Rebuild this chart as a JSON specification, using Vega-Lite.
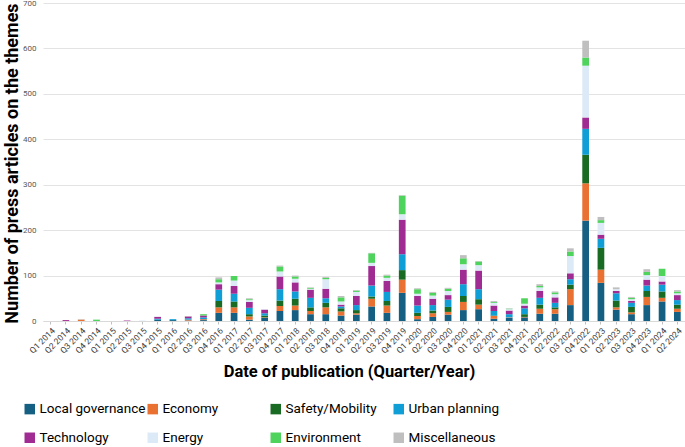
{
  "$schema": "https://vega.github.io/schema/vega-lite/v6.json",
  "autosize": {"type": "none"},
  "width": 642,
  "height": 318,
  "padding": {"left": 43, "top": 3, "right": 0, "bottom": 126},
  "background": "white",
  "config": {"view": {"stroke": null}, "font": "Roboto"},
  "data": {"values": [
    {"q":"Q1 2014","Local governance":0,"Economy":0,"Safety/Mobility":0,"Urban planning":0,"Technology":0,"Energy":0,"Environment":0,"Miscellaneous":0},
    {"q":"Q2 2014","Local governance":0,"Economy":0,"Safety/Mobility":0,"Urban planning":0,"Technology":2,"Energy":0,"Environment":0,"Miscellaneous":0},
    {"q":"Q3 2014","Local governance":0,"Economy":3,"Safety/Mobility":0,"Urban planning":0,"Technology":0,"Energy":0,"Environment":0,"Miscellaneous":1},
    {"q":"Q4 2014","Local governance":0,"Economy":0,"Safety/Mobility":0,"Urban planning":0,"Technology":0,"Energy":0,"Environment":3,"Miscellaneous":0},
    {"q":"Q1 2015","Local governance":0,"Economy":0,"Safety/Mobility":0,"Urban planning":0,"Technology":0,"Energy":0,"Environment":0,"Miscellaneous":0},
    {"q":"Q2 2015","Local governance":0,"Economy":0,"Safety/Mobility":0,"Urban planning":0,"Technology":1,"Energy":0,"Environment":0,"Miscellaneous":0},
    {"q":"Q3 2015","Local governance":0,"Economy":0,"Safety/Mobility":0,"Urban planning":0,"Technology":0,"Energy":1,"Environment":0,"Miscellaneous":0},
    {"q":"Q4 2015","Local governance":3,"Economy":0,"Safety/Mobility":0,"Urban planning":2,"Technology":4,"Energy":1,"Environment":0,"Miscellaneous":0},
    {"q":"Q1 2016","Local governance":2,"Economy":0,"Safety/Mobility":0,"Urban planning":2,"Technology":0,"Energy":0,"Environment":0,"Miscellaneous":0},
    {"q":"Q2 2016","Local governance":1,"Economy":2,"Safety/Mobility":0,"Urban planning":3,"Technology":4,"Energy":0,"Environment":0,"Miscellaneous":1},
    {"q":"Q3 2016","Local governance":2,"Economy":2,"Safety/Mobility":0,"Urban planning":4,"Technology":4,"Energy":0,"Environment":3,"Miscellaneous":0},
    {"q":"Q4 2016","Local governance":18,"Economy":12,"Safety/Mobility":14,"Urban planning":25,"Technology":12,"Energy":4,"Environment":7,"Miscellaneous":4},
    {"q":"Q1 2017","Local governance":18,"Economy":12,"Safety/Mobility":13,"Urban planning":17,"Technology":17,"Energy":12,"Environment":10,"Miscellaneous":0},
    {"q":"Q2 2017","Local governance":3,"Economy":7,"Safety/Mobility":5,"Urban planning":14,"Technology":13,"Energy":4,"Environment":2,"Miscellaneous":2},
    {"q":"Q3 2017","Local governance":7,"Economy":1,"Safety/Mobility":4,"Urban planning":5,"Technology":8,"Energy":1,"Environment":0,"Miscellaneous":0},
    {"q":"Q4 2017","Local governance":22,"Economy":11,"Safety/Mobility":12,"Urban planning":25,"Technology":28,"Energy":11,"Environment":11,"Miscellaneous":2},
    {"q":"Q1 2018","Local governance":24,"Economy":10,"Safety/Mobility":15,"Urban planning":16,"Technology":20,"Energy":8,"Environment":5,"Miscellaneous":2},
    {"q":"Q2 2018","Local governance":15,"Economy":7,"Safety/Mobility":8,"Urban planning":21,"Technology":18,"Energy":2,"Environment":2,"Miscellaneous":1},
    {"q":"Q3 2018","Local governance":15,"Economy":15,"Safety/Mobility":10,"Urban planning":10,"Technology":21,"Energy":21,"Environment":3,"Miscellaneous":2},
    {"q":"Q4 2018","Local governance":12,"Economy":9,"Safety/Mobility":7,"Urban planning":4,"Technology":4,"Energy":7,"Environment":9,"Miscellaneous":3},
    {"q":"Q1 2019","Local governance":14,"Economy":3,"Safety/Mobility":7,"Urban planning":11,"Technology":20,"Energy":9,"Environment":3,"Miscellaneous":1},
    {"q":"Q2 2019","Local governance":32,"Economy":17,"Safety/Mobility":5,"Urban planning":24,"Technology":43,"Energy":7,"Environment":21,"Miscellaneous":1},
    {"q":"Q3 2019","Local governance":18,"Economy":16,"Safety/Mobility":10,"Urban planning":20,"Technology":24,"Energy":7,"Environment":5,"Miscellaneous":2},
    {"q":"Q4 2019","Local governance":62,"Economy":29,"Safety/Mobility":21,"Urban planning":35,"Technology":76,"Energy":12,"Environment":41,"Miscellaneous":1},
    {"q":"Q1 2020","Local governance":4,"Economy":7,"Safety/Mobility":7,"Urban planning":16,"Technology":21,"Energy":5,"Environment":10,"Miscellaneous":2},
    {"q":"Q2 2020","Local governance":9,"Economy":8,"Safety/Mobility":6,"Urban planning":12,"Technology":14,"Energy":7,"Environment":6,"Miscellaneous":2},
    {"q":"Q3 2020","Local governance":14,"Economy":6,"Safety/Mobility":11,"Urban planning":16,"Technology":10,"Energy":9,"Environment":5,"Miscellaneous":2},
    {"q":"Q4 2020","Local governance":24,"Economy":18,"Safety/Mobility":13,"Urban planning":26,"Technology":32,"Energy":12,"Environment":13,"Miscellaneous":7},
    {"q":"Q1 2021","Local governance":26,"Economy":10,"Safety/Mobility":12,"Urban planning":22,"Technology":41,"Energy":12,"Environment":8,"Miscellaneous":1},
    {"q":"Q2 2021","Local governance":5,"Economy":6,"Safety/Mobility":1,"Urban planning":10,"Technology":12,"Energy":6,"Environment":2,"Miscellaneous":2},
    {"q":"Q3 2021","Local governance":7,"Economy":1,"Safety/Mobility":0,"Urban planning":7,"Technology":8,"Energy":3,"Environment":1,"Miscellaneous":1},
    {"q":"Q4 2021","Local governance":8,"Economy":1,"Safety/Mobility":6,"Urban planning":13,"Technology":6,"Energy":4,"Environment":12,"Miscellaneous":0},
    {"q":"Q1 2022","Local governance":16,"Economy":11,"Safety/Mobility":9,"Urban planning":15,"Technology":15,"Energy":8,"Environment":3,"Miscellaneous":4},
    {"q":"Q2 2022","Local governance":16,"Economy":10,"Safety/Mobility":4,"Urban planning":10,"Technology":12,"Energy":7,"Environment":4,"Miscellaneous":2},
    {"q":"Q3 2022","Local governance":35,"Economy":35,"Safety/Mobility":10,"Urban planning":12,"Technology":13,"Energy":38,"Environment":10,"Miscellaneous":7},
    {"q":"Q4 2022","Local governance":221,"Economy":82,"Safety/Mobility":63,"Urban planning":57,"Technology":25,"Energy":114,"Environment":18,"Miscellaneous":37},
    {"q":"Q1 2023","Local governance":84,"Economy":29,"Safety/Mobility":48,"Urban planning":20,"Technology":9,"Energy":26,"Environment":6,"Miscellaneous":7},
    {"q":"Q2 2023","Local governance":25,"Economy":5,"Safety/Mobility":15,"Urban planning":16,"Technology":5,"Energy":4,"Environment":0,"Miscellaneous":4},
    {"q":"Q3 2023","Local governance":15,"Economy":4,"Safety/Mobility":12,"Urban planning":9,"Technology":4,"Energy":4,"Environment":3,"Miscellaneous":2},
    {"q":"Q4 2023","Local governance":35,"Economy":18,"Safety/Mobility":13,"Urban planning":12,"Technology":13,"Energy":10,"Environment":7,"Miscellaneous":6},
    {"q":"Q1 2024","Local governance":43,"Economy":8,"Safety/Mobility":14,"Urban planning":15,"Technology":7,"Energy":12,"Environment":16,"Miscellaneous":0},
    {"q":"Q2 2024","Local governance":20,"Economy":7,"Safety/Mobility":9,"Urban planning":10,"Technology":11,"Energy":4,"Environment":4,"Miscellaneous":3}
  ]},
  "transform": [
    {"fold": ["Local governance","Economy","Safety/Mobility","Urban planning","Technology","Energy","Environment","Miscellaneous"], "as": ["theme","count"]}
  ],
  "mark": {"type": "bar"},
  "encoding": {
    "x": {
      "field": "q", "type": "nominal", "sort": null,
      "scale": {"paddingInner": 0.56, "paddingOuter": 0.28},
      "axis": {
        "title": "Date of publication (Quarter/Year)",
        "titleFontSize": 16.5, "titleFontWeight": "bold", "titleColor": "#000000",
        "titleX": 306, "titleY": 50, "titleAlign": "center", "titleBaseline": "middle",
        "labelAngle": -45, "labelFontSize": 8.5, "labelColor": "#404040",
        "labelPadding": 2,
        "domainColor": "#d9d9d9", "tickColor": "#bfbfbf", "tickSize": 3
      }
    },
    "y": {
      "aggregate": "sum", "field": "count", "type": "quantitative",
      "scale": {"domain": [0, 700]},
      "axis": {
        "title": "Number of press articles on the themes",
        "titleFontSize": 18, "titleFontWeight": "bold", "titleColor": "#000000",
        "titleX": -31, "titleY": 160, "titleAlign": "center", "titleBaseline": "middle", "titleAngle": 270,
        "values": [0,100,200,300,400,500,600,700],
        "labelFontSize": 8, "labelColor": "#595959", "labelPadding": 7,
        "domain": false, "ticks": false,
        "gridColor": "#e3e3e3", "gridWidth": 1
      }
    },
    "color": {
      "field": "theme", "type": "nominal",
      "sort": ["Local governance","Economy","Safety/Mobility","Urban planning","Technology","Energy","Environment","Miscellaneous"],
      "scale": {
        "domain": ["Local governance","Economy","Safety/Mobility","Urban planning","Technology","Energy","Environment","Miscellaneous"],
        "range": ["#156082","#e97132","#196b24","#0f9ed5","#a02b93","#dceaf7","#4ed35c","#bfbfbf"]
      },
      "legend": {
        "orient": "none", "legendX": -20, "legendY": 399,
        "direction": "horizontal", "columns": 4, "gridAlign": "all",
        "title": null, "symbolType": "square", "symbolSize": 110,
        "symbolStrokeWidth": 0, "labelOffset": 3,
        "labelExpr": "datum.label == 'Economy' ? 'Economy\u00a0\u00a0\u00a0\u00a0\u00a0\u00a0\u00a0\u00a0\u00a0\u00a0\u00a0\u00a0\u00a0\u00a0\u00a0' : datum.label",
        "labelFontSize": 13.5, "labelColor": "#000000", "labelLimit": 200,
        "rowPadding": 14, "columnPadding": -3
      }
    },
    "order": {"field": "theme_order", "type": "quantitative"}
  }
}
